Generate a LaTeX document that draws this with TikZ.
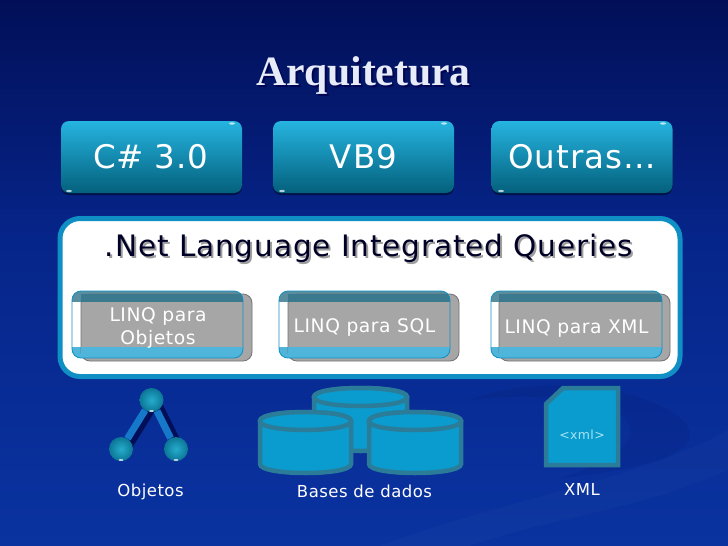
\documentclass[tikz,border=0pt]{standalone}
\usepackage{fontspec}
\setmainfont{DejaVu Sans}
\newfontfamily\titlefont{Liberation Serif}
\newfontfamily\spacedfont[LetterSpace=3]{DejaVu Sans}
\usetikzlibrary{shadows,calc}
\pgfdeclarelayer{front}
\pgfsetlayers{main,front}
\definecolor{bgtop}{HTML}{020F58}
\definecolor{bgmid}{HTML}{06258A}
\definecolor{bgbot}{HTML}{0A33A0}
\definecolor{btop}{HTML}{25B4E0}
\definecolor{bbot}{HTML}{04607C}
\definecolor{edgeblue}{HTML}{0F8FC4}
\definecolor{cylfill}{HTML}{0A9CCE}
\definecolor{cylline}{HTML}{2A7C98}
\definecolor{graybox}{HTML}{A6A6A6}
\definecolor{darkband}{HTML}{3B7A8E}
\definecolor{lightband}{HTML}{4FB5DA}
\definecolor{ballin}{HTML}{26ACCC}
\definecolor{ballout}{HTML}{0C7696}
\definecolor{treeline}{HTML}{1678C8}
\definecolor{titlecol}{HTML}{E8ECF8}
\definecolor{tagcol}{HTML}{A8E4F4}
\tikzset{
  x=1pt,y=-1pt,
  langbox/.style={draw=none,rounded corners=8pt,top color=btop,bottom color=bbot,
    minimum width=181pt,minimum height=72pt,inner sep=0pt,text=white,
    font=\spacedfont\fontsize{32.5}{36}\selectfont,
    drop shadow={shadow xshift=0pt,shadow yshift=-2pt,fill=black,opacity=.45}},
  linqtext/.style={text=white,font=\spacedfont\fontsize{18.7}{23.5}\selectfont,align=center,inner sep=0pt},
  labeltext/.style={text=white,font=\spacedfont\fontsize{16.5}{20}\selectfont,inner sep=0pt},
  titletext/.style={font=\titlefont\bfseries\fontsize{41.7}{46}\selectfont,inner sep=0pt},
  headtext/.style={font=\spacedfont\fontsize{29.5}{32}\selectfont,inner sep=0pt},
  cyl/.style={draw=cylline,line width=4.5pt,fill=cylfill},
  ball/.style={circle,minimum size=24pt,inner sep=0pt,draw=none,
    inner color=ballin,outer color=ballout},
  treeedge/.style={draw=treeline,line width=7pt},
  treeshadow/.style={draw=bgtop,line width=7pt},
  glint/.style={fill=white,opacity=.7},
}
% cylinder: left x, right x, top y, bottom y, coordinate name
\newcommand{\mycyl}[5]{%
  \path[cyl] (#1,#3+9) -- (#1,#4-9) .. controls (#1,#4+3) and (#2,#4+3) .. (#2,#4-9)
     -- (#2,#3+9) .. controls (#2,#3-3) and (#1,#3-3) .. (#1,#3+9) -- cycle;
  \path[cyl] (#1,#3+9) .. controls (#1,#3-3) and (#2,#3-3) .. (#2,#3+9)
     .. controls (#2,#3+21) and (#1,#3+21) .. (#1,#3+9) -- cycle;
  \coordinate (#5) at ({(#1+#2)/2},{(#3+#4)/2});
}
% linq box: front left x, back left x
\newcommand{\linqbox}[2]{%
  \begin{scope}
    \path[fill=white,rounded corners=9pt] (#1,291) rectangle (#1+171,358);
    \begin{scope}
      \clip[rounded corners=9pt] (#1,291) rectangle (#1+171,358);
      \fill[darkband!85!white] (#1,291) rectangle (#1+171,302);
      \fill[lightband] (#1,347) rectangle (#1+171,358);
    \end{scope}
    \draw[black!55,line width=.8pt,fill=graybox,rounded corners=9pt] (#2,294) rectangle (#2+171,361);
    \begin{scope}
      \clip[rounded corners=9pt] (#1,291) rectangle (#1+171,358);
      \fill[darkband] (#2,294) rectangle (#1+171,302);
      \fill[lightband] (#2,347) rectangle (#1+171,358);
    \end{scope}
    \draw[edgeblue,line width=.8pt,rounded corners=9pt] (#1,291) rectangle (#1+171,358);
  \end{scope}
}
\begin{document}
\begin{tikzpicture}
\useasboundingbox (0,0) rectangle (728,546);
\shade[top color=bgtop,bottom color=bgmid] (0,0) rectangle (728,240);
\shade[top color=bgmid,bottom color=bgbot] (0,240) rectangle (728,546);
% faint swooshes
\fill[bgtop,opacity=.10] (470,400) .. controls (560,365) and (690,400) .. (690,435) .. controls (690,455) and (640,470) .. (560,478) .. controls (640,455) and (650,420) .. (600,405) .. controls (560,395) and (510,395) .. (470,400) -- cycle;
\fill[white,opacity=.02] (380,546) .. controls (500,500) and (640,480) .. (728,430) -- (728,470) .. controls (640,510) and (540,520) .. (470,546) -- cycle;

% title
\node[titletext,text=black!70!blue,opacity=.8] (titleshadow) at (365.5,77) {Arquitetura};
\node[titletext,text=titlecol] (title) at (363.5,75) {Arquitetura};

% language boxes
\node[langbox,text width=163pt,align=left] (csharp) at (151.5,157) {\hspace*{23pt}\raisebox{-1pt}{C\# 3.0}};
\node[langbox] (vb) at (363.5,157) {\raisebox{-1pt}{VB9}};
\node[langbox] (outras) at (582,157) {\raisebox{-1pt}{Outras…}};
\fill[glint] (232,123.5) ellipse[x radius=3,y radius=1.2];
\fill[glint] (69,191) ellipse[x radius=3,y radius=1.2];
\fill[glint] (444,123.5) ellipse[x radius=3,y radius=1.2];
\fill[glint] (282,191) ellipse[x radius=3,y radius=1.2];
\fill[glint] (663,123.5) ellipse[x radius=3,y radius=1.2];
\fill[glint] (501,191) ellipse[x radius=3,y radius=1.2];

% panel
\node[draw=edgeblue,line width=5pt,fill=white,rounded corners=20pt,minimum width=620pt,minimum height=158pt,inner sep=0pt] (panel) at (370,297.5) {};
\node[headtext,text=black!38] (headshadow) at (371,250) {.Net Language Integrated Queries};
\node[headtext,text=black!85!blue] (head) at (369,248) {.Net Language Integrated Queries};

% LINQ boxes
\linqbox{72}{81}
\linqbox{279}{288}
\linqbox{491}{499}
\node[linqtext] (lobj) at (158,328) {LINQ para\\Objetos};
\node[linqtext] (lsql) at (364.5,327.5) {LINQ para SQL};
\node[linqtext] (lxml) at (576.5,328.5) {LINQ para XML};

% tree icon
\begin{pgfonlayer}{front}
\node[ball] (top) at (151.5,400) {};
\node[ball] (left) at (121,449) {};
\node[ball] (right) at (176,449) {};
\fill[glint] (151.5,411) ellipse[x radius=2.5,y radius=1];
\fill[glint] (121,460) ellipse[x radius=2.5,y radius=1];
\fill[glint] (176,460) ellipse[x radius=2.5,y radius=1];
\end{pgfonlayer}
\draw[treeshadow] ($(top)+(5,2)$) -- ($(left)+(5,2)$);
\draw[treeshadow] ($(top)+(5,0)$) -- ($(right)+(5,0)$);
\draw[treeedge] (top) -- (left);
\draw[treeedge] (top) -- (right);

% cylinders
\mycyl{314}{407}{388}{451}{dbback}
\mycyl{260}{351}{412}{473}{dbleft}
\mycyl{369}{461}{412}{473}{dbright}

% document
\draw[cyl,line join=miter] (563,388) -- (618,388) -- (618,465) -- (546,465) -- (546,404) -- cycle;
\node[text=tagcol,font=\spacedfont\fontsize{12.5}{15}\selectfont,inner sep=0pt] (xmltag) at (582,435) {<xml>};

% labels
\node[labeltext] (objlab) at (150.5,491.5) {Objetos};
\node[labeltext] (dblab) at (364.5,491) {Bases de dados};
\node[labeltext] (xmllab) at (582,489) {XML};
\end{tikzpicture}
\end{document}
